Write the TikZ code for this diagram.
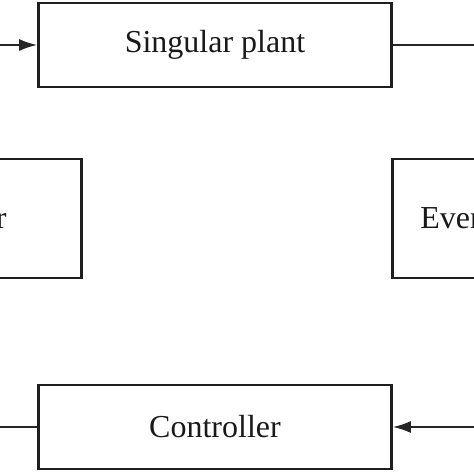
\documentclass[tikz,border=0pt]{standalone}
\usepackage{fontspec}
\setmainfont{Liberation Serif}
\usetikzlibrary{arrows.meta}
\tikzstyle{block}=[draw=black!88, line width=2.7pt, inner sep=0pt, minimum width=353pt, minimum height=84pt]
\tikzstyle{side}=[block, minimum width=0pt, minimum height=119pt, text width=150pt, text height=20pt, text depth=0pt]
\tikzstyle{wire}=[line width=1.9pt]
\tikzstyle{signal}=[wire, -{Latex[length=18pt,width=12pt]}]

\begin{document}
\begin{tikzpicture}[x=1pt, y=-1pt, black!85, font=\fontsize{32}{36}\selectfont]
    \useasboundingbox (0,0) rectangle (474,474);
    \clip (0,0) rectangle (474,474);
% Blocks
    \node[block, text=black!90] (plant) at (215,45) {Singular plant};
    \node[block, text=black!90] (controller) at (215,427) {Controller};
    \node[side, anchor=east, inner xsep=75pt, align=right, text=black!90] (holder) at (83,218.5) {r};
    \node[side, anchor=west, inner xsep=28pt, align=left, text=black!90] (event) at (391,218.5) {Even};
% Signals leaving the picture
    \coordinate (plantin) at (0,45);
    \coordinate (plantout) at (474,45);
    \coordinate (ctrlin) at (474,427);
    \coordinate (ctrlout) at (0,427);
    \draw[signal] (plantin) -- (plant.west);
    \draw[wire] (plant.east) -- (plantout);
    \draw[signal] (ctrlin) -- (controller.east);
    \draw[wire] (controller.west) -- (ctrlout);
\end{tikzpicture}
\end{document}
